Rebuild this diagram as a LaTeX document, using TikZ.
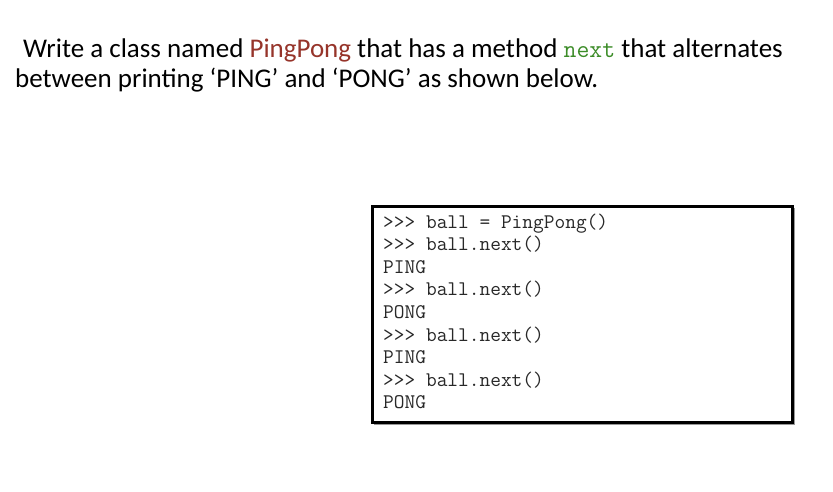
\documentclass[tikz,border=0pt]{standalone}
\usepackage{fontspec}
\setmainfont{Carlito}
\definecolor{cls}{RGB}{150,52,42}
\definecolor{meth}{RGB}{60,140,40}
\definecolor{codegray}{RGB}{40,40,40}
\begin{document}
\begin{tikzpicture}[x=1pt,y=-1pt,
  title/.style={anchor=base west,inner sep=0pt,font=\fontsize{27}{32}\selectfont},
  code/.style={anchor=base west,inner sep=0pt,font=\ttfamily\fontsize{20.8}{24}\selectfont,text=codegray}]
\useasboundingbox (0,0) rectangle (833,492);
\node[title] (t1) at (23,58) {Write a class named \textcolor{cls}{PingPong} that has a method \textcolor{meth}{\ttfamily\fontsize{25}{30}\selectfont next} that alternates};
\node[title] (t2) at (15,88) {between printing ‘PING’ and ‘PONG’ as shown below.};
\fill[black!40] (374,208) rectangle (795,425);
\draw[line width=3pt,fill=white] (372,206) rectangle (792,422);
\foreach \t [count=\i] in {>{}>{}> ball = PingPong(),>{}>{}> ball.next(),PING,>{}>{}> ball.next(),PONG,>{}>{}> ball.next(),PING,>{}>{}> ball.next(),PONG}
  \node[code] (l\i) at (383,{228+22.6*(\i-1)}) {\t};
\end{tikzpicture}
\end{document}
